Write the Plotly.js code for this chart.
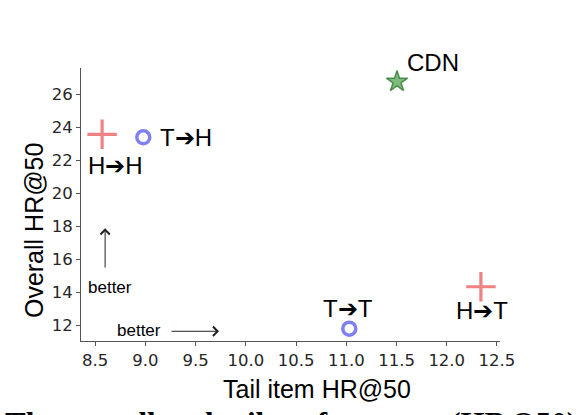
<!DOCTYPE html>
<html>
<head>
<meta charset="utf-8">
<script src="https://cdn.plot.ly/plotly-3.0.1.min.js"></script>
<style>
  html, body { margin: 0; padding: 0; background: #fff; }
  #chart { width: 582px; height: 415px; }
</style>
</head>
<body>
<div id="chart"></div>
<script>
// points: x = tail item HR@50, y = overall HR@50
const plusNames = ["H➔H", "H➔T"];
const plusX = [8.57, 12.34];
const plusY = [23.56, 14.32];

const circleNames = ["T➔H", "T➔T"];
const circleX = [8.98, 11.03];
const circleY = [23.38, 11.78];

const starNames = ["CDN"];
const starX = [11.505];
const starY = [26.75];

const xTicks = [8.5, 9.0, 9.5, 10.0, 10.5, 11.0, 11.5, 12.0, 12.5];
const yTicks = [12, 14, 16, 18, 20, 22, 24, 26];

const xTitle = "Tail item HR@50";
const yTitle = "Overall HR@50";
const betterText = "better";
const captionText = "The overall and tail performance (HR@50)";

// label offsets (in data units) from each point
const labelOffsets = {
  "H➔H": [0.13, -1.92],
  "H➔T": [0.01, -1.45],
  "T➔H": [0.42, -0.03],
  "T➔T": [-0.01, 1.25],
  "CDN": [0.36, 1.15],
};

const labelFont = { family: "Liberation Sans, Arial, sans-serif", size: 24, color: "#000" };
const tickFont = { family: "DejaVu Sans, sans-serif", size: 16.5, color: "#262626" };

const tPlus = {
  x: plusX,
  y: plusY,
  mode: "markers",
  type: "scatter",
  marker: { symbol: "cross-thin-open", size: 21, color: "#ee8282", line: { color: "#ee8282", width: 3.2 } },
  hoverinfo: "skip",
  showlegend: false,
  cliponaxis: false,
};

const tCircle = {
  x: circleX,
  y: circleY,
  mode: "markers",
  type: "scatter",
  marker: { symbol: "circle-open", size: 13, color: "#8080f2", line: { color: "#8080f2", width: 3.5 } },
  hoverinfo: "skip",
  showlegend: false,
  cliponaxis: false,
};

const tStar = {
  x: starX,
  y: starY,
  mode: "markers",
  type: "scatter",
  marker: { symbol: "star", size: 16, color: "rgba(40,140,40,0.6)", line: { color: "rgba(30,110,30,0.7)", width: 1.5 } },
  hoverinfo: "skip",
  showlegend: false,
  cliponaxis: false,
};

// y axis range, also used to place labels that sit above the plot
const yRange = [11.03, 27.58];

const pointLabel = (name, x, y) => {
  const ly = y + labelOffsets[name][1];
  const above = ly > yRange[1];
  return {
    x: x + labelOffsets[name][0],
    y: above ? (ly - yRange[0]) / (yRange[1] - yRange[0]) : ly,
    xref: "x",
    yref: above ? "paper" : "y",
    text: name,
    showarrow: false,
    xanchor: "center",
    yanchor: "middle",
    font: labelFont,
  };
};

const annotations = [];
plusNames.forEach((n, i) => annotations.push(pointLabel(n, plusX[i], plusY[i])));
circleNames.forEach((n, i) => annotations.push(pointLabel(n, circleX[i], circleY[i])));
starNames.forEach((n, i) => annotations.push(pointLabel(n, starX[i], starY[i])));

// the two "better" hints
const betterFont = { family: "Liberation Sans, Arial, sans-serif", size: 17, color: "#000" };
annotations.push(
  { x: 8.65, y: 14.28, xref: "x", yref: "y", text: betterText, showarrow: false, font: betterFont },
  { x: 8.94, y: 11.65, xref: "x", yref: "y", text: betterText, showarrow: false, font: betterFont },
  {
    x: 8.6, y: 17.86, ax: 8.6, ay: 15.39, xref: "x", yref: "y", axref: "x", ayref: "y",
    text: "", showarrow: true, arrowhead: 4, arrowsize: 1.8, arrowwidth: 1, arrowcolor: "#222",
  },
  {
    x: 9.734, y: 11.62, ax: 9.246, ay: 11.62, xref: "x", yref: "y", axref: "x", ayref: "y",
    text: "", showarrow: true, arrowhead: 4, arrowsize: 1.8, arrowwidth: 1, arrowcolor: "#222",
  },
);

// axis titles sit off-centre in the picture, so they are placed as annotations
annotations.push(
  {
    xref: "paper", yref: "paper", x: 0.5644, y: -0.176, text: xTitle, showarrow: false,
    xanchor: "center", yanchor: "middle",
    font: { family: "Liberation Sans, Arial, sans-serif", size: 25, color: "#000" },
  },
  {
    xref: "paper", yref: "paper", x: -0.112, y: 0.403, text: yTitle, showarrow: false,
    textangle: -90, xanchor: "center", yanchor: "middle",
    font: { family: "Liberation Sans, Arial, sans-serif", size: 25, color: "#000" },
  },
  // caption of the source figure, cut off by the bottom edge
  {
    xref: "paper", yref: "paper", x: -0.186, y: -0.304, text: "<b>" + captionText + "</b>",
    showarrow: false, xanchor: "left", yanchor: "middle",
    font: { family: "Liberation Serif, Times New Roman, serif", size: 31, color: "#000" },
  },
);

const layout = {
  width: 582,
  height: 415,
  margin: { l: 81, r: 82, t: 68, b: 74 },
  paper_bgcolor: "#fff",
  plot_bgcolor: "#fff",
  showlegend: false,
  xaxis: {
    range: [8.36, 12.53],
    tickvals: xTicks,
    ticktext: xTicks.map((v) => v.toFixed(1)),
    ticks: "outside",
    ticklen: 4,
    tickwidth: 1,
    tickcolor: "#555",
    showline: true,
    linecolor: "#555",
    linewidth: 1,
    showgrid: false,
    zeroline: false,
    tickfont: tickFont,
  },
  yaxis: {
    range: yRange,
    tickvals: yTicks,
    ticks: "outside",
    ticklen: 4,
    tickwidth: 1,
    tickcolor: "#555",
    showline: true,
    linecolor: "#555",
    linewidth: 1,
    showgrid: false,
    zeroline: false,
    tickfont: tickFont,
  },
  annotations,
};

Plotly.newPlot("chart", [tPlus, tCircle, tStar], layout, { displayModeBar: false, staticPlot: true });
</script>
</body>
</html>
